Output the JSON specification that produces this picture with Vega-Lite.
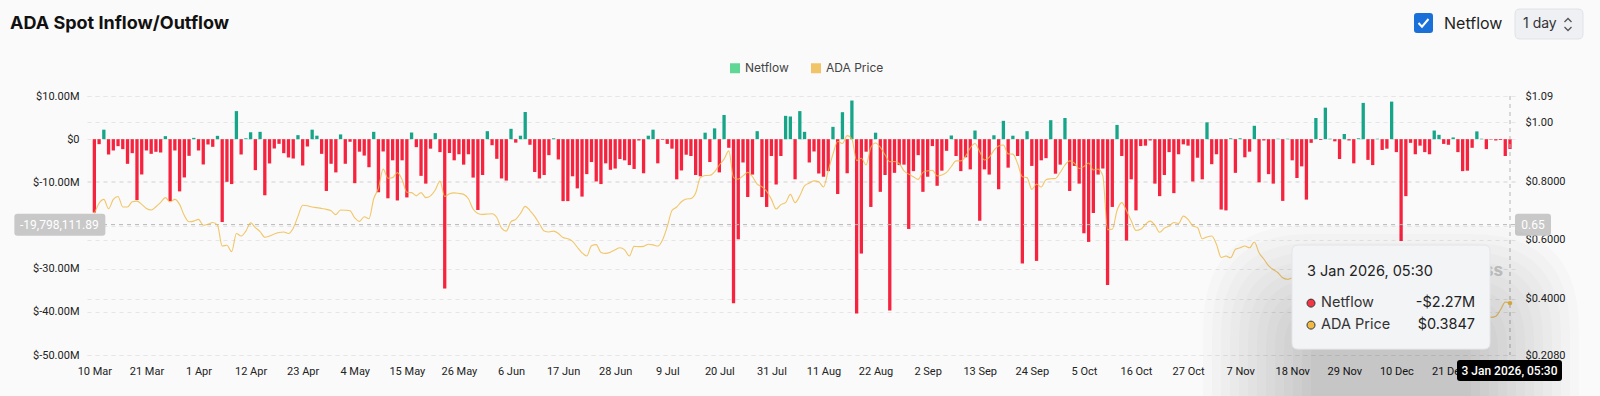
{
"$schema":"https://vega.github.io/schema/vega-lite/v6.json",
"width":1428,"height":259,
"padding":{"left":10,"top":7,"right":10,"bottom":0},
"background":"#fafafa",
"title":{"text":"ADA Spot Inflow/Outflow","anchor":"start","frame":"group","dx":-77,"fontSize":18,"fontWeight":700,"font":"Inter","color":"#111111","offset":-26},
"config":{"view":{"stroke":null},"axis":{"labelFont":"Roboto","labelFontSize":11,"labelColor":"#222222","domain":false,"ticks":false,"gridColor":"#e6e6e6","gridDash":[4,4],"gridWidth":1}},
"datasets":{
"hov":[{"d":"2026-01-03","cy":-19.79811189,"p":0.3847}],
"lft":[{"d":"2025-03-10","cy":-19.79811189}],
"shadow":[
{"d":"2026-01-03","p":0.3847,"s":"M-179,30H-59Q-39,30 -39,50V94H-199V50Q-199,30 -179,30Z"},
{"d":"2026-01-03","p":0.3847,"s":"M-181,21H-57Q-30,21 -30,48V94H-208V48Q-208,21 -181,21Z"},
{"d":"2026-01-03","p":0.3847,"s":"M-183,12H-55Q-21,12 -21,46V94H-217V46Q-217,12 -183,12Z"},
{"d":"2026-01-03","p":0.3847,"s":"M-185,3H-53Q-12,3 -12,44V94H-226V44Q-226,3 -185,3Z"},
{"d":"2026-01-03","p":0.3847,"s":"M-187,-6H-51Q-3,-6 -3,42V94H-235V42Q-235,-6 -187,-6Z"},
{"d":"2026-01-03","p":0.3847,"s":"M-189,-15H-49Q6,-15 6,40V94H-244V40Q-244,-15 -189,-15Z"},
{"d":"2026-01-03","p":0.3847,"s":"M-191,-24H-47Q15,-24 15,38V94H-253V38Q-253,-24 -191,-24Z"},
{"d":"2026-01-03","p":0.3847,"s":"M-193,-33H-45Q24,-33 24,36V94H-262V36Q-262,-33 -193,-33Z"},
{"d":"2026-01-03","p":0.3847,"s":"M-195,-42H-43Q33,-42 33,34V94H-271V34Q-271,-42 -195,-42Z"},
{"d":"2026-01-03","p":0.3847,"s":"M-197,-51H-41Q42,-51 42,32V94H-280V32Q-280,-51 -197,-51Z"},
{"d":"2026-01-03","p":0.3847,"s":"M-199,-60H-39Q51,-60 51,30V94H-289V30Q-289,-60 -199,-60Z"},
{"d":"2026-01-03","p":0.3847,"s":"M-201,-69H-37Q60,-69 60,28V94H-298V28Q-298,-69 -201,-69Z"},
{"d":"2026-01-03","p":0.3847,"s":"M-203,-78H-35Q69,-78 69,26V94H-307V26Q-307,-78 -203,-78Z"}
],
"main":[
{"d":"2025-03-10","n":-17.0,"p":0.690},{"d":"2025-03-11","n":-1.16,"p":0.725},{"d":"2025-03-12","n":2.2,"p":0.738},{"d":"2025-03-13","n":-3.55,"p":0.706},{"d":"2025-03-14","n":-2.62,"p":0.738},{"d":"2025-03-15","n":-1.62,"p":0.748},{"d":"2025-03-16","n":-2.31,"p":0.712},{"d":"2025-03-17","n":-5.71,"p":0.712},{"d":"2025-03-18","n":-3.24,"p":0.730},{"d":"2025-03-19","n":-14.1,"p":0.732},
{"d":"2025-03-20","n":-8.18,"p":0.721},{"d":"2025-03-21","n":-2.62,"p":0.707},{"d":"2025-03-22","n":-3.4,"p":0.702},{"d":"2025-03-23","n":-2.93,"p":0.713},{"d":"2025-03-24","n":-3.09,"p":0.728},{"d":"2025-03-25","n":0.7,"p":0.744},{"d":"2025-03-26","n":-14.35,"p":0.729},{"d":"2025-03-27","n":-2.62,"p":0.738},{"d":"2025-03-28","n":-12.1,"p":0.721},{"d":"2025-03-29","n":-8.87,"p":0.683},
{"d":"2025-03-30","n":-3.86,"p":0.662},{"d":"2025-03-31","n":0.3,"p":0.664},{"d":"2025-04-01","n":-2.62,"p":0.670},{"d":"2025-04-02","n":-5.86,"p":0.650},{"d":"2025-04-03","n":-1.23,"p":0.653},{"d":"2025-04-04","n":-1.77,"p":0.659},{"d":"2025-04-05","n":0.77,"p":0.650},{"d":"2025-04-06","n":-19.2,"p":0.579},{"d":"2025-04-07","n":-9.88,"p":0.582},{"d":"2025-04-08","n":-10.4,"p":0.560},
{"d":"2025-04-09","n":6.5,"p":0.622},{"d":"2025-04-10","n":-3.55,"p":0.613},{"d":"2025-04-11","n":0.2,"p":0.630},{"d":"2025-04-12","n":1.6,"p":0.658},{"d":"2025-04-13","n":-7.18,"p":0.642},{"d":"2025-04-14","n":1.7,"p":0.628},{"d":"2025-04-15","n":-13.0,"p":0.609},{"d":"2025-04-16","n":-5.63,"p":0.613},{"d":"2025-04-17","n":-2.16,"p":0.620},{"d":"2025-04-18","n":-1.08,"p":0.625},
{"d":"2025-04-19","n":-3.24,"p":0.627},{"d":"2025-04-20","n":-4.24,"p":0.622},{"d":"2025-04-21","n":-4.48,"p":0.640},{"d":"2025-04-22","n":0.93,"p":0.680},{"d":"2025-04-23","n":-6.1,"p":0.718},{"d":"2025-04-24","n":-1.7,"p":0.716},{"d":"2025-04-25","n":2.2,"p":0.712},{"d":"2025-04-26","n":0.8,"p":0.710},{"d":"2025-04-27","n":-3.4,"p":0.707},{"d":"2025-04-28","n":-12.0,"p":0.704},
{"d":"2025-04-29","n":-5.7,"p":0.699},{"d":"2025-04-30","n":-7.7,"p":0.686},{"d":"2025-05-01","n":1.1,"p":0.702},{"d":"2025-05-02","n":-5.7,"p":0.701},{"d":"2025-05-03","n":-0.6,"p":0.699},{"d":"2025-05-04","n":-10.2,"p":0.675},{"d":"2025-05-05","n":-2.9,"p":0.663},{"d":"2025-05-06","n":-3.8,"p":0.679},{"d":"2025-05-07","n":-6.5,"p":0.672},{"d":"2025-05-08","n":1.7,"p":0.740},
{"d":"2025-05-09","n":-12.3,"p":0.776},{"d":"2025-05-10","n":-2.85,"p":0.841},{"d":"2025-05-11","n":-13.7,"p":0.810},{"d":"2025-05-12","n":-4.9,"p":0.812},{"d":"2025-05-13","n":-14.2,"p":0.829},{"d":"2025-05-14","n":-4.9,"p":0.805},{"d":"2025-05-15","n":-13.5,"p":0.762},{"d":"2025-05-16","n":1.54,"p":0.761},{"d":"2025-05-17","n":-1.85,"p":0.750},{"d":"2025-05-18","n":-8.5,"p":0.761},
{"d":"2025-05-19","n":-10.3,"p":0.744},{"d":"2025-05-20","n":-2.2,"p":0.750},{"d":"2025-05-21","n":1.4,"p":0.770},{"d":"2025-05-22","n":-3.0,"p":0.800},{"d":"2025-05-23","n":-34.6,"p":0.748},{"d":"2025-05-24","n":-3.2,"p":0.757},{"d":"2025-05-25","n":-4.9,"p":0.760},{"d":"2025-05-26","n":-3.5,"p":0.758},{"d":"2025-05-27","n":-5.9,"p":0.755},{"d":"2025-05-28","n":-3.5,"p":0.740},
{"d":"2025-05-29","n":-8.9,"p":0.705},{"d":"2025-05-30","n":-16.4,"p":0.690},{"d":"2025-05-31","n":-8.3,"p":0.687},{"d":"2025-06-01","n":1.85,"p":0.688},{"d":"2025-06-02","n":-1.4,"p":0.689},{"d":"2025-06-03","n":-4.55,"p":0.676},{"d":"2025-06-04","n":-9.1,"p":0.640},{"d":"2025-06-05","n":-9.6,"p":0.630},{"d":"2025-06-06","n":2.4,"p":0.662},{"d":"2025-06-07","n":-0.8,"p":0.670},
{"d":"2025-06-08","n":0.8,"p":0.690},{"d":"2025-06-09","n":6.3,"p":0.714},{"d":"2025-06-10","n":-1.3,"p":0.700},{"d":"2025-06-11","n":-7.6,"p":0.680},{"d":"2025-06-12","n":-9.1,"p":0.655},{"d":"2025-06-13","n":-8.3,"p":0.630},{"d":"2025-06-14","n":-3.7,"p":0.627},{"d":"2025-06-15","n":0.2,"p":0.630},{"d":"2025-06-16","n":-4.7,"p":0.622},{"d":"2025-06-17","n":-14.35,"p":0.608},
{"d":"2025-06-18","n":-14.35,"p":0.604},{"d":"2025-06-19","n":-8.6,"p":0.595},{"d":"2025-06-20","n":-11.4,"p":0.575},{"d":"2025-06-21","n":-13.3,"p":0.556},{"d":"2025-06-22","n":-8.1,"p":0.545},{"d":"2025-06-23","n":-5.3,"p":0.580},{"d":"2025-06-24","n":-9.8,"p":0.584},{"d":"2025-06-25","n":-10.4,"p":0.557},{"d":"2025-06-26","n":-5.6,"p":0.554},{"d":"2025-06-27","n":-7.1,"p":0.558},
{"d":"2025-06-28","n":-6.8,"p":0.566},{"d":"2025-06-29","n":-4.6,"p":0.573},{"d":"2025-06-30","n":-4.9,"p":0.566},{"d":"2025-07-01","n":-6.0,"p":0.545},{"d":"2025-07-02","n":-6.9,"p":0.578},{"d":"2025-07-03","n":-0.3,"p":0.577},{"d":"2025-07-04","n":-7.9,"p":0.578},{"d":"2025-07-05","n":0.8,"p":0.585},{"d":"2025-07-06","n":2.2,"p":0.583},{"d":"2025-07-07","n":-5.6,"p":0.579},
{"d":"2025-07-08","n":-0.15,"p":0.600},{"d":"2025-07-09","n":-1.1,"p":0.645},{"d":"2025-07-10","n":-2.2,"p":0.700},{"d":"2025-07-11","n":-9.3,"p":0.712},{"d":"2025-07-12","n":-7.25,"p":0.730},{"d":"2025-07-13","n":-3.6,"p":0.739},{"d":"2025-07-14","n":-3.9,"p":0.741},{"d":"2025-07-15","n":-8.3,"p":0.760},{"d":"2025-07-16","n":-8.6,"p":0.812},{"d":"2025-07-17","n":1.5,"p":0.819},
{"d":"2025-07-18","n":-5.3,"p":0.820},{"d":"2025-07-19","n":2.5,"p":0.832},{"d":"2025-07-20","n":-7.7,"p":0.855},{"d":"2025-07-21","n":5.6,"p":0.875},{"d":"2025-07-22","n":-2.0,"p":0.903},{"d":"2025-07-23","n":-38.0,"p":0.812},{"d":"2025-07-24","n":-23.2,"p":0.807},{"d":"2025-07-25","n":-5.4,"p":0.818},{"d":"2025-07-26","n":-13.4,"p":0.830},{"d":"2025-07-27","n":-8.2,"p":0.815},
{"d":"2025-07-28","n":1.85,"p":0.790},{"d":"2025-07-29","n":-13.4,"p":0.781},{"d":"2025-07-30","n":-15.7,"p":0.765},{"d":"2025-07-31","n":-3.9,"p":0.738},{"d":"2025-08-01","n":-10.5,"p":0.705},{"d":"2025-08-02","n":-3.9,"p":0.720},{"d":"2025-08-03","n":5.4,"p":0.727},{"d":"2025-08-04","n":5.25,"p":0.755},{"d":"2025-08-05","n":-9.3,"p":0.727},{"d":"2025-08-06","n":6.5,"p":0.750},
{"d":"2025-08-07","n":1.7,"p":0.784},{"d":"2025-08-08","n":-5.4,"p":0.793},{"d":"2025-08-09","n":-2.85,"p":0.801},{"d":"2025-08-10","n":-7.95,"p":0.798},{"d":"2025-08-11","n":-8.7,"p":0.780},{"d":"2025-08-12","n":-7.4,"p":0.835},{"d":"2025-08-13","n":2.85,"p":0.892},{"d":"2025-08-14","n":-12.7,"p":0.935},{"d":"2025-08-15","n":6.25,"p":0.928},{"d":"2025-08-16","n":-7.9,"p":0.955},
{"d":"2025-08-17","n":8.95,"p":0.943},{"d":"2025-08-18","n":-40.4,"p":0.870},{"d":"2025-08-19","n":-26.5,"p":0.878},{"d":"2025-08-20","n":-2.9,"p":0.855},{"d":"2025-08-21","n":-15.7,"p":0.915},{"d":"2025-08-22","n":1.5,"p":0.930},{"d":"2025-08-23","n":-12.2,"p":0.915},{"d":"2025-08-24","n":-8.3,"p":0.890},{"d":"2025-08-25","n":-39.7,"p":0.866},{"d":"2025-08-26","n":-7.8,"p":0.867},
{"d":"2025-08-27","n":-6.0,"p":0.860},{"d":"2025-08-28","n":-5.9,"p":0.835},{"d":"2025-08-29","n":-20.8,"p":0.824},{"d":"2025-08-30","n":-7.4,"p":0.815},{"d":"2025-08-31","n":-3.7,"p":0.806},{"d":"2025-09-01","n":-12.2,"p":0.830},{"d":"2025-09-02","n":-8.7,"p":0.835},{"d":"2025-09-03","n":-1.6,"p":0.837},{"d":"2025-09-04","n":-10.8,"p":0.818},{"d":"2025-09-05","n":-7.3,"p":0.821},
{"d":"2025-09-06","n":-2.7,"p":0.830},{"d":"2025-09-07","n":0.85,"p":0.850},{"d":"2025-09-08","n":-3.9,"p":0.869},{"d":"2025-09-09","n":-7.4,"p":0.869},{"d":"2025-09-10","n":-4.2,"p":0.885},{"d":"2025-09-11","n":-7.0,"p":0.913},{"d":"2025-09-12","n":2.0,"p":0.928},{"d":"2025-09-13","n":-18.9,"p":0.900},{"d":"2025-09-14","n":-7.0,"p":0.872},{"d":"2025-09-15","n":-8.2,"p":0.881},
{"d":"2025-09-16","n":0.9,"p":0.905},{"d":"2025-09-17","n":-11.6,"p":0.920},{"d":"2025-09-18","n":4.25,"p":0.923},{"d":"2025-09-19","n":-6.6,"p":0.893},{"d":"2025-09-20","n":0.8,"p":0.892},{"d":"2025-09-21","n":-3.9,"p":0.860},{"d":"2025-09-22","n":-28.8,"p":0.815},{"d":"2025-09-23","n":1.85,"p":0.812},{"d":"2025-09-24","n":-6.2,"p":0.772},{"d":"2025-09-25","n":-28.2,"p":0.790},
{"d":"2025-09-26","n":-4.9,"p":0.780},{"d":"2025-09-27","n":-4.4,"p":0.805},{"d":"2025-09-28","n":4.4,"p":0.808},{"d":"2025-09-29","n":-8.0,"p":0.809},{"d":"2025-09-30","n":-5.9,"p":0.830},{"d":"2025-10-01","n":4.9,"p":0.855},{"d":"2025-10-02","n":-12.0,"p":0.869},{"d":"2025-10-03","n":-6.2,"p":0.861},{"d":"2025-10-04","n":-10.3,"p":0.843},{"d":"2025-10-05","n":-21.8,"p":0.850},
{"d":"2025-10-06","n":-23.8,"p":0.862},{"d":"2025-10-07","n":-17.1,"p":0.838},{"d":"2025-10-08","n":-8.2,"p":0.841},{"d":"2025-10-09","n":-6.8,"p":0.818},{"d":"2025-10-10","n":-33.8,"p":0.635},{"d":"2025-10-11","n":-15.7,"p":0.636},{"d":"2025-10-12","n":3.3,"p":0.700},{"d":"2025-10-13","n":-3.9,"p":0.727},{"d":"2025-10-14","n":-23.5,"p":0.699},{"d":"2025-10-15","n":-9.3,"p":0.665},
{"d":"2025-10-16","n":-16.5,"p":0.632},{"d":"2025-10-17","n":-1.6,"p":0.636},{"d":"2025-10-18","n":-1.5,"p":0.653},{"d":"2025-10-19","n":-0.3,"p":0.664},{"d":"2025-10-20","n":-10.3,"p":0.650},{"d":"2025-10-21","n":-13.2,"p":0.626},{"d":"2025-10-22","n":-8.3,"p":0.640},{"d":"2025-10-23","n":-3.0,"p":0.647},{"d":"2025-10-24","n":-12.5,"p":0.659},{"d":"2025-10-25","n":-3.5,"p":0.656},
{"d":"2025-10-26","n":-1.2,"p":0.681},{"d":"2025-10-27","n":-1.5,"p":0.670},{"d":"2025-10-28","n":-9.8,"p":0.648},{"d":"2025-10-29","n":-4.3,"p":0.642},{"d":"2025-10-30","n":-9.3,"p":0.604},{"d":"2025-10-31","n":3.9,"p":0.610},{"d":"2025-11-01","n":-5.8,"p":0.613},{"d":"2025-11-02","n":-3.5,"p":0.585},{"d":"2025-11-03","n":-16.3,"p":0.540},{"d":"2025-11-04","n":-16.5,"p":0.545},
{"d":"2025-11-05","n":0.2,"p":0.539},{"d":"2025-11-06","n":-7.8,"p":0.568},{"d":"2025-11-07","n":0.2,"p":0.573},{"d":"2025-11-08","n":-4.2,"p":0.579},{"d":"2025-11-09","n":-2.9,"p":0.573},{"d":"2025-11-10","n":3.1,"p":0.593},{"d":"2025-11-11","n":-10.0,"p":0.556},{"d":"2025-11-12","n":-0.3,"p":0.535},{"d":"2025-11-13","n":-8.1,"p":0.512},{"d":"2025-11-14","n":-10.3,"p":0.499},
{"d":"2025-11-15","n":0.1,"p":0.488},{"d":"2025-11-16","n":-14.3,"p":0.471},{"d":"2025-11-17","n":0.1,"p":0.466},{"d":"2025-11-18","n":-4.9,"p":0.470},{"d":"2025-11-19","n":-9.0,"p":0.455},{"d":"2025-11-20","n":-6.3,"p":0.440},{"d":"2025-11-21","n":-14.0,"p":0.415},{"d":"2025-11-22","n":-0.85,"p":0.405},{"d":"2025-11-23","n":4.9,"p":0.420},{"d":"2025-11-24","n":-0.2,"p":0.418},
{"d":"2025-11-25","n":7.3,"p":0.425},{"d":"2025-11-26","n":0.1,"p":0.415},{"d":"2025-11-27","n":-0.5,"p":0.412},{"d":"2025-11-28","n":-4.6,"p":0.420},{"d":"2025-11-29","n":1.2,"p":0.418},{"d":"2025-11-30","n":-0.3,"p":0.410},{"d":"2025-12-01","n":-5.6,"p":0.385},{"d":"2025-12-02","n":0.2,"p":0.390},{"d":"2025-12-03","n":8.4,"p":0.435},{"d":"2025-12-04","n":-4.8,"p":0.428},
{"d":"2025-12-05","n":-6.0,"p":0.425},{"d":"2025-12-06","n":0.1,"p":0.418},{"d":"2025-12-07","n":-2.5,"p":0.430},{"d":"2025-12-08","n":-2.2,"p":0.445},{"d":"2025-12-09","n":8.7,"p":0.452},{"d":"2025-12-10","n":-3.0,"p":0.430},{"d":"2025-12-11","n":-23.6,"p":0.415},{"d":"2025-12-12","n":-13.2,"p":0.410},{"d":"2025-12-13","n":-0.85,"p":0.405},{"d":"2025-12-14","n":-3.5,"p":0.395},
{"d":"2025-12-15","n":-1.5,"p":0.385},{"d":"2025-12-16","n":-3.0,"p":0.375},{"d":"2025-12-17","n":-3.5,"p":0.380},{"d":"2025-12-18","n":2.0,"p":0.372},{"d":"2025-12-19","n":1.0,"p":0.366},{"d":"2025-12-20","n":-1.1,"p":0.370},{"d":"2025-12-21","n":-1.3,"p":0.362},{"d":"2025-12-22","n":0.4,"p":0.368},{"d":"2025-12-23","n":-3.0,"p":0.365},{"d":"2025-12-24","n":-7.4,"p":0.360},
{"d":"2025-12-25","n":-7.3,"p":0.355},{"d":"2025-12-26","n":-2.0,"p":0.358},{"d":"2025-12-27","n":1.8,"p":0.352},{"d":"2025-12-28","n":0.1,"p":0.350},{"d":"2025-12-29","n":-2.3,"p":0.356},{"d":"2025-12-30","n":-0.1,"p":0.336},{"d":"2025-12-31","n":-0.3,"p":0.340},{"d":"2026-01-01","n":-0.2,"p":0.362},{"d":"2026-01-02","n":-3.9,"p":0.388},{"d":"2026-01-03","n":-2.27,"p":0.3847}
]},
"layer":[
{"layer":[
{"data":{"name":"main"},"mark":{"type":"bar","width":3.3},
 "encoding":{
  "x":{"field":"d","type":"temporal","scale":{"type":"utc","domain":[{"year":2025,"month":3,"date":9,"hours":12,"utc":true},{"year":2026,"month":1,"date":3,"utc":true}]},
   "axis":{"title":null,"grid":false,"labelExpr":"utcFormat(datum.value, '%-d %b')","labelPadding":10,"labelFont":"Roboto","labelFontSize":11,"values":[
{"year":2025,"month":3,"date":10,"utc":true},{"year":2025,"month":3,"date":21,"utc":true},{"year":2025,"month":4,"date":1,"utc":true},{"year":2025,"month":4,"date":12,"utc":true},{"year":2025,"month":4,"date":23,"utc":true},{"year":2025,"month":5,"date":4,"utc":true},{"year":2025,"month":5,"date":15,"utc":true},{"year":2025,"month":5,"date":26,"utc":true},{"year":2025,"month":6,"date":6,"utc":true},{"year":2025,"month":6,"date":17,"utc":true},{"year":2025,"month":6,"date":28,"utc":true},{"year":2025,"month":7,"date":9,"utc":true},{"year":2025,"month":7,"date":20,"utc":true},{"year":2025,"month":7,"date":31,"utc":true},{"year":2025,"month":8,"date":11,"utc":true},{"year":2025,"month":8,"date":22,"utc":true},{"year":2025,"month":9,"date":2,"utc":true},{"year":2025,"month":9,"date":13,"utc":true},{"year":2025,"month":9,"date":24,"utc":true},{"year":2025,"month":10,"date":5,"utc":true},{"year":2025,"month":10,"date":16,"utc":true},{"year":2025,"month":10,"date":27,"utc":true},{"year":2025,"month":11,"date":7,"utc":true},{"year":2025,"month":11,"date":18,"utc":true},{"year":2025,"month":11,"date":29,"utc":true},{"year":2025,"month":12,"date":10,"utc":true},{"year":2025,"month":12,"date":21,"utc":true}]}},
  "y":{"field":"n","type":"quantitative","scale":{"domain":[-50,10],"nice":false,"zero":false},
   "axis":{"title":null,"orient":"left","grid":true,"values":[10,0,-10,-20,-30,-40,-50],"labelPadding":8,"minExtent":77,"maxExtent":77,"labelExpr":"datum.value == 0 ? '$0' : '$' + (datum.value < 0 ? '-' : '') + format(abs(datum.value), '.2f') + 'M'"}},
  "y2":{"datum":0},
  "color":{"condition":{"test":"datum.n >= 0","value":"#16a588"},"value":"#f6233f"}
 }},
{"data":{"name":"hov"},"mark":{"type":"rule","color":"#b5b5b5","strokeDash":[4,4],"strokeWidth":1},
 "encoding":{"y":{"field":"cy","type":"quantitative","axis":{"title":null}}}},
{"data":{"name":"hov"},"mark":{"type":"rule","color":"#b5b5b5","strokeDash":[4,4],"strokeWidth":1},
 "encoding":{"x":{"field":"d","type":"temporal","axis":{"title":null,"labelExpr":"utcFormat(datum.value, '%-d %b')"}}}},
{"data":{"name":"lft"},"mark":{"type":"point","shape":"M-77,-11H8Q11,-11 11,-8V8Q11,11 8,11H-77Q-80,11 -80,8V-8Q-80,-11 -77,-11Z","size":4,"filled":true,"fill":"#c8c8c8","opacity":1,"strokeWidth":0},
 "encoding":{"x":{"field":"d","type":"temporal","axis":{"title":null,"labelExpr":"utcFormat(datum.value, '%-d %b')"}},"y":{"field":"cy","type":"quantitative","axis":{"title":null}}}},
{"data":{"name":"lft"},"mark":{"type":"text","text":"-19,798,111.89","dx":-35,"align":"center","baseline":"middle","font":"Roboto","fontSize":12,"color":"#ffffff"},
 "encoding":{"x":{"field":"d","type":"temporal","axis":{"title":null,"labelExpr":"utcFormat(datum.value, '%-d %b')"}},"y":{"field":"cy","type":"quantitative","axis":{"title":null}}}},
{"data":{"name":"hov"},"mark":{"type":"point","shape":"M8,-11H38Q41,-11 41,-8V8Q41,11 38,11H8Q5,11 5,8V-8Q5,-11 8,-11Z","size":4,"filled":true,"fill":"#c8c8c8","opacity":1,"strokeWidth":0},
 "encoding":{"x":{"field":"d","type":"temporal","axis":{"title":null,"labelExpr":"utcFormat(datum.value, '%-d %b')"}},"y":{"field":"cy","type":"quantitative","axis":{"title":null}}}},
{"data":{"name":"hov"},"mark":{"type":"text","text":"0.65","dx":23,"align":"center","baseline":"middle","font":"Roboto","fontSize":12,"color":"#ffffff"},
 "encoding":{"x":{"field":"d","type":"temporal","axis":{"title":null,"labelExpr":"utcFormat(datum.value, '%-d %b')"}},"y":{"field":"cy","type":"quantitative","axis":{"title":null}}}},
{"data":{"name":"hov"},"mark":{"type":"point","shape":"M-93,-83H-80Q-77,-83 -77,-80V-66Q-77,-63 -80,-63H-93Q-96,-63 -96,-66V-80Q-96,-83 -93,-83Z","size":4,"filled":true,"fill":"#1b6fd8","opacity":1,"strokeWidth":0},
 "encoding":{"x":{"field":"d","type":"temporal","axis":{"title":null,"labelExpr":"utcFormat(datum.value, '%-d %b')"}},"y":{"datum":10}}},
{"data":{"name":"hov"},"mark":{"type":"point","shape":"M-91.5,-73L-88,-69.3L-81.5,-77","size":4,"filled":false,"stroke":"#ffffff","strokeWidth":2,"opacity":1},
 "encoding":{"x":{"field":"d","type":"temporal","axis":{"title":null,"labelExpr":"utcFormat(datum.value, '%-d %b')"}},"y":{"datum":10}}},
{"data":{"name":"hov"},"mark":{"type":"text","text":"Netflow","dx":-66,"dy":-72,"align":"left","baseline":"middle","font":"Inter","fontSize":16,"color":"#1f1f1f"},
 "encoding":{"x":{"field":"d","type":"temporal","axis":{"title":null,"labelExpr":"utcFormat(datum.value, '%-d %b')"}},"y":{"datum":10}}},
{"data":{"name":"hov"},"mark":{"type":"point","shape":"M10,-87H68Q73,-87 73,-82V-62Q73,-57 68,-57H10Q5,-57 5,-62V-82Q5,-87 10,-87Z","size":4,"filled":true,"fill":"#eef0f4","stroke":"#e0e2e6","strokeWidth":1,"opacity":1},
 "encoding":{"x":{"field":"d","type":"temporal","axis":{"title":null,"labelExpr":"utcFormat(datum.value, '%-d %b')"}},"y":{"datum":10}}},
{"data":{"name":"hov"},"mark":{"type":"text","text":"1 day","dx":13,"dy":-72,"align":"left","baseline":"middle","font":"Inter","fontSize":14,"color":"#333333"},
 "encoding":{"x":{"field":"d","type":"temporal","axis":{"title":null,"labelExpr":"utcFormat(datum.value, '%-d %b')"}},"y":{"datum":10}}},
{"data":{"name":"hov"},"mark":{"type":"point","shape":"M54.5,-74L58,-77.5L61.5,-74M54.5,-69L58,-65.5L61.5,-69","size":4,"filled":false,"stroke":"#555555","strokeWidth":1.3,"opacity":1},
 "encoding":{"x":{"field":"d","type":"temporal","axis":{"title":null,"labelExpr":"utcFormat(datum.value, '%-d %b')"}},"y":{"datum":10}}}
]},
{"layer":[
{"data":{"name":"main"},"mark":{"type":"line","interpolate":"monotone","strokeWidth":1.1,"opacity":0.8},
 "encoding":{
  "x":{"field":"d","type":"temporal","axis":{"title":null,"labelExpr":"utcFormat(datum.value, '%-d %b')"}},
  "y":{"field":"p","type":"quantitative","scale":{"domain":[0.208,1.09],"nice":false,"zero":false},
   "axis":{"title":null,"orient":"right","grid":true,"values":[1.09,1,0.8,0.6,0.4,0.208],"labelPadding":10,"minExtent":75,"maxExtent":75,"labelExpr":"'$' + (datum.value >= 1 ? format(datum.value, '.2f') : format(datum.value, '.4f'))"}},
  "color":{"datum":"ADA Price","type":"nominal","scale":{"domain":["Netflow","ADA Price"],"range":["#3ccf7e","#efb943"]},
   "legend":{"orient":"none","legendX":642,"legendY":-34,"direction":"horizontal","title":null,"symbolType":"square","symbolSize":25,"symbolStrokeWidth":5,"labelFont":"Inter","labelFontSize":12,"labelColor":"#444444","columnPadding":14,
    "encode":{"symbols":{"update":{"fill":{"scale":"color","field":"value"},"opacity":{"value":1}}}}}}
 }},
{"data":{"name":"hov"},"mark":{"type":"point","filled":true,"fill":"#efb943","size":20,"opacity":1},
 "encoding":{"x":{"field":"d","type":"temporal","axis":{"title":null,"labelExpr":"utcFormat(datum.value, '%-d %b')"}},"y":{"field":"p","type":"quantitative","axis":{"title":null}}}},
{"data":{"name":"hov"},"mark":{"type":"text","text":"coinglass","dx":-7,"dy":-32,"align":"right","baseline":"middle","font":"Inter","fontSize":17,"fontWeight":700,"color":"#cdcdcd"},
 "encoding":{"x":{"field":"d","type":"temporal","axis":{"title":null,"labelExpr":"utcFormat(datum.value, '%-d %b')"}},"y":{"field":"p","type":"quantitative","axis":{"title":null}}}},
{"data":{"name":"shadow"},"mark":{"type":"point","size":4,"filled":true,"fill":"#000000","strokeWidth":0,"opacity":0.014},
 "encoding":{"x":{"field":"d","type":"temporal","axis":{"title":null,"labelExpr":"utcFormat(datum.value, '%-d %b')"}},"y":{"field":"p","type":"quantitative","axis":{"title":null}},
  "shape":{"field":"s","type":"nominal","scale":null}}},
{"data":{"name":"hov"},"mark":{"type":"point","shape":"M-212,-58H-26Q-20,-58 -20,-52V40Q-20,46 -26,46H-212Q-218,46 -218,40V-52Q-218,-58 -212,-58Z","size":4,"filled":true,"fill":"#f3f4f6","stroke":"#e4e5e8","strokeWidth":1,"opacity":1},
 "encoding":{"x":{"field":"d","type":"temporal","axis":{"title":null,"labelExpr":"utcFormat(datum.value, '%-d %b')"}},"y":{"field":"p","type":"quantitative","axis":{"title":null}}}},
{"data":{"name":"hov"},"mark":{"type":"text","text":"3 Jan 2026, 05:30","dx":-203,"dy":-31,"align":"left","baseline":"middle","font":"Inter","fontSize":14.5,"color":"#222222"},
 "encoding":{"x":{"field":"d","type":"temporal","axis":{"title":null,"labelExpr":"utcFormat(datum.value, '%-d %b')"}},"y":{"field":"p","type":"quantitative","axis":{"title":null}}}},
{"data":{"name":"hov"},"mark":{"type":"point","shape":"M-195,0A4,4 0 1,1 -203,0A4,4 0 1,1 -195,0Z","size":4,"filled":true,"fill":"#f23645","stroke":"#333333","strokeWidth":1,"opacity":1},
 "encoding":{"x":{"field":"d","type":"temporal","axis":{"title":null,"labelExpr":"utcFormat(datum.value, '%-d %b')"}},"y":{"field":"p","type":"quantitative","axis":{"title":null}}}},
{"data":{"name":"hov"},"mark":{"type":"point","shape":"M-195,22A4,4 0 1,1 -203,22A4,4 0 1,1 -195,22Z","size":4,"filled":true,"fill":"#efb943","stroke":"#333333","strokeWidth":1,"opacity":1},
 "encoding":{"x":{"field":"d","type":"temporal","axis":{"title":null,"labelExpr":"utcFormat(datum.value, '%-d %b')"}},"y":{"field":"p","type":"quantitative","axis":{"title":null}}}},
{"data":{"name":"hov"},"mark":{"type":"text","text":"Netflow","dx":-189,"dy":0,"align":"left","baseline":"middle","font":"Inter","fontSize":14.5,"color":"#333333"},
 "encoding":{"x":{"field":"d","type":"temporal","axis":{"title":null,"labelExpr":"utcFormat(datum.value, '%-d %b')"}},"y":{"field":"p","type":"quantitative","axis":{"title":null}}}},
{"data":{"name":"hov"},"mark":{"type":"text","text":"ADA Price","dx":-189,"dy":22,"align":"left","baseline":"middle","font":"Inter","fontSize":14.5,"color":"#333333"},
 "encoding":{"x":{"field":"d","type":"temporal","axis":{"title":null,"labelExpr":"utcFormat(datum.value, '%-d %b')"}},"y":{"field":"p","type":"quantitative","axis":{"title":null}}}},
{"data":{"name":"hov"},"mark":{"type":"text","text":"-$2.27M","dx":-35,"dy":0,"align":"right","baseline":"middle","font":"Inter","fontSize":14.5,"color":"#222222"},
 "encoding":{"x":{"field":"d","type":"temporal","axis":{"title":null,"labelExpr":"utcFormat(datum.value, '%-d %b')"}},"y":{"field":"p","type":"quantitative","axis":{"title":null}}}},
{"data":{"name":"hov"},"mark":{"type":"text","text":"$0.3847","dx":-35,"dy":22,"align":"right","baseline":"middle","font":"Inter","fontSize":14.5,"color":"#222222"},
 "encoding":{"x":{"field":"d","type":"temporal","axis":{"title":null,"labelExpr":"utcFormat(datum.value, '%-d %b')"}},"y":{"field":"p","type":"quantitative","axis":{"title":null}}}},
{"data":{"name":"hov"},"mark":{"type":"point","shape":"M-50,57H49Q52,57 52,60V75Q52,78 49,78H-50Q-53,78 -53,75V60Q-53,57 -50,57Z","size":4,"filled":true,"fill":"#000000","opacity":1,"strokeWidth":0},
 "encoding":{"x":{"field":"d","type":"temporal","axis":{"title":null,"labelExpr":"utcFormat(datum.value, '%-d %b')"}},"y":{"field":"p","type":"quantitative","axis":{"title":null}}}},
{"data":{"name":"hov"},"mark":{"type":"text","text":"3 Jan 2026, 05:30","dx":-0.5,"dy":67.5,"align":"center","baseline":"middle","font":"Roboto","fontSize":12,"fontWeight":500,"color":"#ffffff"},
 "encoding":{"x":{"field":"d","type":"temporal","axis":{"title":null,"labelExpr":"utcFormat(datum.value, '%-d %b')"}},"y":{"field":"p","type":"quantitative","axis":{"title":null}}}}
]}
],
"resolve":{"scale":{"y":"independent"},"axis":{"y":"independent"}}
}
